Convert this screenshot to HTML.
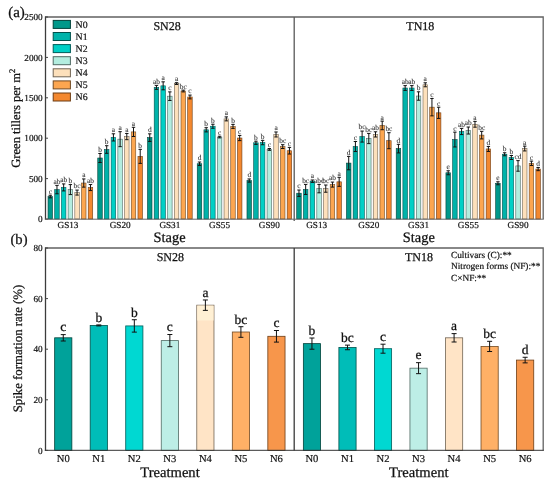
<!DOCTYPE html>
<html><head><meta charset="utf-8"><style>
html,body{margin:0;padding:0;background:#fff;width:550px;height:483px;overflow:hidden}
svg{display:block;will-change:transform}
text{font-family:"Liberation Serif", serif;text-rendering:geometricPrecision}
</style></head><body>
<svg width="550" height="483" viewBox="0 0 550 483">
<rect width="550" height="483" fill="#fff"/>
<rect x="48.02" y="196.54" width="4.50" height="22.46" fill="#00988a" stroke="#00423a" stroke-width="0.6"/>
<rect x="54.72" y="189.59" width="4.50" height="29.41" fill="#00b3aa" stroke="#00504b" stroke-width="0.6"/>
<rect x="61.42" y="187.41" width="4.50" height="31.59" fill="#00d0c6" stroke="#005d59" stroke-width="0.6"/>
<rect x="68.12" y="189.59" width="4.50" height="29.41" fill="#b3eddf" stroke="#506a64" stroke-width="0.6"/>
<rect x="74.82" y="192.58" width="4.50" height="26.42" fill="#fde0bb" stroke="#716454" stroke-width="0.6"/>
<rect x="81.52" y="183.04" width="4.50" height="35.96" fill="#fca650" stroke="#714a24" stroke-width="0.6"/>
<rect x="88.22" y="187.57" width="4.50" height="31.43" fill="#f3882f" stroke="#6d3d15" stroke-width="0.6"/>
<path d="M50.27 195.24V197.84M48.57 195.24H51.97M48.57 197.84H51.97" stroke="#111" stroke-width="1.0" fill="none"/>
<text x="50.27" y="193.64" font-size="7.4" text-anchor="middle" fill="#3a3a3a" stroke="#3a3a3a" stroke-width="0.12" >c</text>
<path d="M56.97 185.39V193.79M55.27 185.39H58.67M55.27 193.79H58.67" stroke="#111" stroke-width="1.0" fill="none"/>
<text x="56.97" y="183.79" font-size="7.4" text-anchor="middle" fill="#3a3a3a" stroke="#3a3a3a" stroke-width="0.12" >ab</text>
<path d="M63.67 183.91V190.91M61.97 183.91H65.37M61.97 190.91H65.37" stroke="#111" stroke-width="1.0" fill="none"/>
<text x="63.67" y="182.31" font-size="7.4" text-anchor="middle" fill="#3a3a3a" stroke="#3a3a3a" stroke-width="0.12" >ab</text>
<path d="M70.37 184.59V194.59M68.67 184.59H72.07M68.67 194.59H72.07" stroke="#111" stroke-width="1.0" fill="none"/>
<text x="70.37" y="182.99" font-size="7.4" text-anchor="middle" fill="#3a3a3a" stroke="#3a3a3a" stroke-width="0.12" >b</text>
<path d="M77.07 190.08V195.08M75.37 190.08H78.77M75.37 195.08H78.77" stroke="#111" stroke-width="1.0" fill="none"/>
<text x="77.07" y="188.48" font-size="7.4" text-anchor="middle" fill="#3a3a3a" stroke="#3a3a3a" stroke-width="0.12" >bc</text>
<path d="M83.77 178.94V187.14M82.07 178.94H85.47M82.07 187.14H85.47" stroke="#111" stroke-width="1.0" fill="none"/>
<text x="83.77" y="177.34" font-size="7.4" text-anchor="middle" fill="#3a3a3a" stroke="#3a3a3a" stroke-width="0.12" >a</text>
<path d="M90.47 184.57V190.57M88.77 184.57H92.17M88.77 190.57H92.17" stroke="#111" stroke-width="1.0" fill="none"/>
<text x="90.47" y="182.97" font-size="7.4" text-anchor="middle" fill="#3a3a3a" stroke="#3a3a3a" stroke-width="0.12" >ab</text>
<text x="67.97" y="228.30" font-size="9.2" text-anchor="middle" fill="#111" stroke="#111" stroke-width="0.2" >GS13</text>
<rect x="97.76" y="158.00" width="4.50" height="61.00" fill="#00988a" stroke="#00423a" stroke-width="0.6"/>
<rect x="104.46" y="149.51" width="4.50" height="69.49" fill="#00b3aa" stroke="#00504b" stroke-width="0.6"/>
<rect x="111.16" y="137.39" width="4.50" height="81.61" fill="#00d0c6" stroke="#005d59" stroke-width="0.6"/>
<rect x="117.86" y="139.17" width="4.50" height="79.83" fill="#b3eddf" stroke="#506a64" stroke-width="0.6"/>
<rect x="124.56" y="136.58" width="4.50" height="82.42" fill="#fde0bb" stroke="#716454" stroke-width="0.6"/>
<rect x="131.26" y="131.90" width="4.50" height="87.10" fill="#fca650" stroke="#714a24" stroke-width="0.6"/>
<rect x="137.96" y="156.38" width="4.50" height="62.62" fill="#f3882f" stroke="#6d3d15" stroke-width="0.6"/>
<path d="M100.01 153.50V162.50M98.31 153.50H101.71M98.31 162.50H101.71" stroke="#111" stroke-width="1.0" fill="none"/>
<text x="100.01" y="151.90" font-size="7.4" text-anchor="middle" fill="#3a3a3a" stroke="#3a3a3a" stroke-width="0.12" >b</text>
<path d="M106.71 145.71V153.31M105.01 145.71H108.41M105.01 153.31H108.41" stroke="#111" stroke-width="1.0" fill="none"/>
<text x="106.71" y="144.11" font-size="7.4" text-anchor="middle" fill="#3a3a3a" stroke="#3a3a3a" stroke-width="0.12" >b</text>
<path d="M113.41 133.79V140.99M111.71 133.79H115.11M111.71 140.99H115.11" stroke="#111" stroke-width="1.0" fill="none"/>
<text x="113.41" y="132.19" font-size="7.4" text-anchor="middle" fill="#3a3a3a" stroke="#3a3a3a" stroke-width="0.12" >a</text>
<path d="M120.11 131.67V146.67M118.41 131.67H121.81M118.41 146.67H121.81" stroke="#111" stroke-width="1.0" fill="none"/>
<text x="120.11" y="130.07" font-size="7.4" text-anchor="middle" fill="#3a3a3a" stroke="#3a3a3a" stroke-width="0.12" >a</text>
<path d="M126.81 133.48V139.68M125.11 133.48H128.51M125.11 139.68H128.51" stroke="#111" stroke-width="1.0" fill="none"/>
<text x="126.81" y="131.88" font-size="7.4" text-anchor="middle" fill="#3a3a3a" stroke="#3a3a3a" stroke-width="0.12" >a</text>
<path d="M133.51 127.30V136.50M131.81 127.30H135.21M131.81 136.50H135.21" stroke="#111" stroke-width="1.0" fill="none"/>
<text x="133.51" y="125.70" font-size="7.4" text-anchor="middle" fill="#3a3a3a" stroke="#3a3a3a" stroke-width="0.12" >a</text>
<path d="M140.21 149.38V163.38M138.51 149.38H141.91M138.51 163.38H141.91" stroke="#111" stroke-width="1.0" fill="none"/>
<text x="140.21" y="147.78" font-size="7.4" text-anchor="middle" fill="#3a3a3a" stroke="#3a3a3a" stroke-width="0.12" >b</text>
<text x="120.11" y="228.30" font-size="9.2" text-anchor="middle" fill="#111" stroke="#111" stroke-width="0.2" >GS20</text>
<rect x="147.50" y="137.63" width="4.50" height="81.37" fill="#00988a" stroke="#00423a" stroke-width="0.6"/>
<rect x="154.20" y="87.38" width="4.50" height="131.62" fill="#00b3aa" stroke="#00504b" stroke-width="0.6"/>
<rect x="160.90" y="85.84" width="4.50" height="133.16" fill="#00d0c6" stroke="#005d59" stroke-width="0.6"/>
<rect x="167.60" y="96.18" width="4.50" height="122.82" fill="#b3eddf" stroke="#506a64" stroke-width="0.6"/>
<rect x="174.30" y="83.58" width="4.50" height="135.42" fill="#fde0bb" stroke="#716454" stroke-width="0.6"/>
<rect x="181.00" y="91.01" width="4.50" height="127.99" fill="#fca650" stroke="#714a24" stroke-width="0.6"/>
<rect x="187.70" y="96.99" width="4.50" height="122.01" fill="#f3882f" stroke="#6d3d15" stroke-width="0.6"/>
<path d="M149.75 133.83V141.43M148.05 133.83H151.45M148.05 141.43H151.45" stroke="#111" stroke-width="1.0" fill="none"/>
<text x="149.75" y="132.23" font-size="7.4" text-anchor="middle" fill="#3a3a3a" stroke="#3a3a3a" stroke-width="0.12" >d</text>
<path d="M156.45 85.38V89.38M154.75 85.38H158.15M154.75 89.38H158.15" stroke="#111" stroke-width="1.0" fill="none"/>
<text x="156.45" y="83.78" font-size="7.4" text-anchor="middle" fill="#3a3a3a" stroke="#3a3a3a" stroke-width="0.12" >ab</text>
<path d="M163.15 81.84V89.84M161.45 81.84H164.85M161.45 89.84H164.85" stroke="#111" stroke-width="1.0" fill="none"/>
<text x="163.15" y="80.24" font-size="7.4" text-anchor="middle" fill="#3a3a3a" stroke="#3a3a3a" stroke-width="0.12" >a</text>
<path d="M169.85 91.88V100.48M168.15 91.88H171.55M168.15 100.48H171.55" stroke="#111" stroke-width="1.0" fill="none"/>
<text x="169.85" y="90.28" font-size="7.4" text-anchor="middle" fill="#3a3a3a" stroke="#3a3a3a" stroke-width="0.12" >c</text>
<path d="M176.55 82.68V84.48M174.85 82.68H178.25M174.85 84.48H178.25" stroke="#111" stroke-width="1.0" fill="none"/>
<text x="176.55" y="81.08" font-size="7.4" text-anchor="middle" fill="#3a3a3a" stroke="#3a3a3a" stroke-width="0.12" >a</text>
<path d="M183.25 90.11V91.91M181.55 90.11H184.95M181.55 91.91H184.95" stroke="#111" stroke-width="1.0" fill="none"/>
<text x="183.25" y="88.51" font-size="7.4" text-anchor="middle" fill="#3a3a3a" stroke="#3a3a3a" stroke-width="0.12" >bc</text>
<path d="M189.95 95.09V98.89M188.25 95.09H191.65M188.25 98.89H191.65" stroke="#111" stroke-width="1.0" fill="none"/>
<text x="189.95" y="93.49" font-size="7.4" text-anchor="middle" fill="#3a3a3a" stroke="#3a3a3a" stroke-width="0.12" >c</text>
<text x="169.85" y="228.30" font-size="9.2" text-anchor="middle" fill="#111" stroke="#111" stroke-width="0.2" >GS31</text>
<rect x="197.24" y="163.73" width="4.50" height="55.27" fill="#00988a" stroke="#00423a" stroke-width="0.6"/>
<rect x="203.94" y="129.80" width="4.50" height="89.20" fill="#00b3aa" stroke="#00504b" stroke-width="0.6"/>
<rect x="210.64" y="126.24" width="4.50" height="92.76" fill="#00d0c6" stroke="#005d59" stroke-width="0.6"/>
<rect x="217.34" y="137.07" width="4.50" height="81.93" fill="#b3eddf" stroke="#506a64" stroke-width="0.6"/>
<rect x="224.04" y="118.89" width="4.50" height="100.11" fill="#fde0bb" stroke="#716454" stroke-width="0.6"/>
<rect x="230.74" y="126.40" width="4.50" height="92.60" fill="#fca650" stroke="#714a24" stroke-width="0.6"/>
<rect x="237.44" y="138.04" width="4.50" height="80.96" fill="#f3882f" stroke="#6d3d15" stroke-width="0.6"/>
<path d="M199.49 162.03V165.43M197.79 162.03H201.19M197.79 165.43H201.19" stroke="#111" stroke-width="1.0" fill="none"/>
<text x="199.49" y="160.43" font-size="7.4" text-anchor="middle" fill="#3a3a3a" stroke="#3a3a3a" stroke-width="0.12" >d</text>
<path d="M206.19 127.70V131.90M204.49 127.70H207.89M204.49 131.90H207.89" stroke="#111" stroke-width="1.0" fill="none"/>
<text x="206.19" y="126.10" font-size="7.4" text-anchor="middle" fill="#3a3a3a" stroke="#3a3a3a" stroke-width="0.12" >b</text>
<path d="M212.89 124.24V128.24M211.19 124.24H214.59M211.19 128.24H214.59" stroke="#111" stroke-width="1.0" fill="none"/>
<text x="212.89" y="122.64" font-size="7.4" text-anchor="middle" fill="#3a3a3a" stroke="#3a3a3a" stroke-width="0.12" >b</text>
<path d="M219.59 136.27V137.87M217.89 136.27H221.29M217.89 137.87H221.29" stroke="#111" stroke-width="1.0" fill="none"/>
<text x="219.59" y="134.67" font-size="7.4" text-anchor="middle" fill="#3a3a3a" stroke="#3a3a3a" stroke-width="0.12" >c</text>
<path d="M226.29 116.89V120.89M224.59 116.89H227.99M224.59 120.89H227.99" stroke="#111" stroke-width="1.0" fill="none"/>
<text x="226.29" y="115.29" font-size="7.4" text-anchor="middle" fill="#3a3a3a" stroke="#3a3a3a" stroke-width="0.12" >a</text>
<path d="M232.99 124.40V128.40M231.29 124.40H234.69M231.29 128.40H234.69" stroke="#111" stroke-width="1.0" fill="none"/>
<text x="232.99" y="122.80" font-size="7.4" text-anchor="middle" fill="#3a3a3a" stroke="#3a3a3a" stroke-width="0.12" >b</text>
<path d="M239.69 135.44V140.64M237.99 135.44H241.39M237.99 140.64H241.39" stroke="#111" stroke-width="1.0" fill="none"/>
<text x="239.69" y="133.84" font-size="7.4" text-anchor="middle" fill="#3a3a3a" stroke="#3a3a3a" stroke-width="0.12" >c</text>
<text x="219.59" y="228.30" font-size="9.2" text-anchor="middle" fill="#111" stroke="#111" stroke-width="0.2" >GS55</text>
<rect x="246.98" y="180.54" width="4.50" height="38.46" fill="#00988a" stroke="#00423a" stroke-width="0.6"/>
<rect x="253.68" y="142.81" width="4.50" height="76.19" fill="#00b3aa" stroke="#00504b" stroke-width="0.6"/>
<rect x="260.38" y="142.56" width="4.50" height="76.44" fill="#00d0c6" stroke="#005d59" stroke-width="0.6"/>
<rect x="267.08" y="149.43" width="4.50" height="69.57" fill="#b3eddf" stroke="#506a64" stroke-width="0.6"/>
<rect x="273.78" y="134.48" width="4.50" height="84.52" fill="#fde0bb" stroke="#716454" stroke-width="0.6"/>
<rect x="280.48" y="146.60" width="4.50" height="72.40" fill="#fca650" stroke="#714a24" stroke-width="0.6"/>
<rect x="287.18" y="150.72" width="4.50" height="68.28" fill="#f3882f" stroke="#6d3d15" stroke-width="0.6"/>
<path d="M249.23 178.94V182.14M247.53 178.94H250.93M247.53 182.14H250.93" stroke="#111" stroke-width="1.0" fill="none"/>
<text x="249.23" y="177.34" font-size="7.4" text-anchor="middle" fill="#3a3a3a" stroke="#3a3a3a" stroke-width="0.12" >d</text>
<path d="M255.93 141.21V144.41M254.23 141.21H257.63M254.23 144.41H257.63" stroke="#111" stroke-width="1.0" fill="none"/>
<text x="255.93" y="139.61" font-size="7.4" text-anchor="middle" fill="#3a3a3a" stroke="#3a3a3a" stroke-width="0.12" >b</text>
<path d="M262.63 140.36V144.76M260.93 140.36H264.33M260.93 144.76H264.33" stroke="#111" stroke-width="1.0" fill="none"/>
<text x="262.63" y="138.76" font-size="7.4" text-anchor="middle" fill="#3a3a3a" stroke="#3a3a3a" stroke-width="0.12" >b</text>
<path d="M269.33 148.53V150.33M267.63 148.53H271.03M267.63 150.33H271.03" stroke="#111" stroke-width="1.0" fill="none"/>
<text x="269.33" y="146.93" font-size="7.4" text-anchor="middle" fill="#3a3a3a" stroke="#3a3a3a" stroke-width="0.12" >c</text>
<path d="M276.03 131.98V136.98M274.33 131.98H277.73M274.33 136.98H277.73" stroke="#111" stroke-width="1.0" fill="none"/>
<text x="276.03" y="130.38" font-size="7.4" text-anchor="middle" fill="#3a3a3a" stroke="#3a3a3a" stroke-width="0.12" >a</text>
<path d="M282.73 144.70V148.50M281.03 144.70H284.43M281.03 148.50H284.43" stroke="#111" stroke-width="1.0" fill="none"/>
<text x="282.73" y="143.10" font-size="7.4" text-anchor="middle" fill="#3a3a3a" stroke="#3a3a3a" stroke-width="0.12" >bc</text>
<path d="M289.43 147.42V154.02M287.73 147.42H291.13M287.73 154.02H291.13" stroke="#111" stroke-width="1.0" fill="none"/>
<text x="289.43" y="145.82" font-size="7.4" text-anchor="middle" fill="#3a3a3a" stroke="#3a3a3a" stroke-width="0.12" >c</text>
<text x="269.33" y="228.30" font-size="9.2" text-anchor="middle" fill="#111" stroke="#111" stroke-width="0.2" >GS90</text>
<rect x="296.72" y="193.22" width="4.50" height="25.78" fill="#00988a" stroke="#00423a" stroke-width="0.6"/>
<rect x="303.42" y="189.43" width="4.50" height="29.57" fill="#00b3aa" stroke="#00504b" stroke-width="0.6"/>
<rect x="310.12" y="181.19" width="4.50" height="37.81" fill="#00d0c6" stroke="#005d59" stroke-width="0.6"/>
<rect x="316.82" y="188.62" width="4.50" height="30.38" fill="#b3eddf" stroke="#506a64" stroke-width="0.6"/>
<rect x="323.52" y="188.62" width="4.50" height="30.38" fill="#fde0bb" stroke="#716454" stroke-width="0.6"/>
<rect x="330.22" y="184.58" width="4.50" height="34.42" fill="#fca650" stroke="#714a24" stroke-width="0.6"/>
<rect x="336.92" y="181.83" width="4.50" height="37.17" fill="#f3882f" stroke="#6d3d15" stroke-width="0.6"/>
<path d="M298.97 190.02V196.42M297.27 190.02H300.67M297.27 196.42H300.67" stroke="#111" stroke-width="1.0" fill="none"/>
<text x="298.97" y="188.42" font-size="7.4" text-anchor="middle" fill="#3a3a3a" stroke="#3a3a3a" stroke-width="0.12" >c</text>
<path d="M305.67 184.43V194.43M303.97 184.43H307.37M303.97 194.43H307.37" stroke="#111" stroke-width="1.0" fill="none"/>
<text x="305.67" y="182.83" font-size="7.4" text-anchor="middle" fill="#3a3a3a" stroke="#3a3a3a" stroke-width="0.12" >bc</text>
<path d="M312.37 179.99V182.39M310.67 179.99H314.07M310.67 182.39H314.07" stroke="#111" stroke-width="1.0" fill="none"/>
<text x="312.37" y="178.39" font-size="7.4" text-anchor="middle" fill="#3a3a3a" stroke="#3a3a3a" stroke-width="0.12" >a</text>
<path d="M319.07 184.42V192.82M317.37 184.42H320.77M317.37 192.82H320.77" stroke="#111" stroke-width="1.0" fill="none"/>
<text x="319.07" y="182.82" font-size="7.4" text-anchor="middle" fill="#3a3a3a" stroke="#3a3a3a" stroke-width="0.12" >abc</text>
<path d="M325.77 185.02V192.22M324.07 185.02H327.47M324.07 192.22H327.47" stroke="#111" stroke-width="1.0" fill="none"/>
<text x="325.77" y="183.42" font-size="7.4" text-anchor="middle" fill="#3a3a3a" stroke="#3a3a3a" stroke-width="0.12" >bc</text>
<path d="M332.47 182.08V187.08M330.77 182.08H334.17M330.77 187.08H334.17" stroke="#111" stroke-width="1.0" fill="none"/>
<text x="332.47" y="180.48" font-size="7.4" text-anchor="middle" fill="#3a3a3a" stroke="#3a3a3a" stroke-width="0.12" >ab</text>
<path d="M339.17 177.33V186.33M337.47 177.33H340.87M337.47 186.33H340.87" stroke="#111" stroke-width="1.0" fill="none"/>
<text x="339.17" y="175.73" font-size="7.4" text-anchor="middle" fill="#3a3a3a" stroke="#3a3a3a" stroke-width="0.12" >a</text>
<text x="316.67" y="228.30" font-size="9.2" text-anchor="middle" fill="#111" stroke="#111" stroke-width="0.2" >GS13</text>
<rect x="346.46" y="163.09" width="4.50" height="55.91" fill="#00988a" stroke="#00423a" stroke-width="0.6"/>
<rect x="353.16" y="146.52" width="4.50" height="72.48" fill="#00b3aa" stroke="#00504b" stroke-width="0.6"/>
<rect x="359.86" y="136.58" width="4.50" height="82.42" fill="#00d0c6" stroke="#005d59" stroke-width="0.6"/>
<rect x="366.56" y="138.52" width="4.50" height="80.48" fill="#b3eddf" stroke="#506a64" stroke-width="0.6"/>
<rect x="373.26" y="134.40" width="4.50" height="84.60" fill="#fde0bb" stroke="#716454" stroke-width="0.6"/>
<rect x="379.96" y="125.43" width="4.50" height="93.57" fill="#fca650" stroke="#714a24" stroke-width="0.6"/>
<rect x="386.66" y="140.70" width="4.50" height="78.30" fill="#f3882f" stroke="#6d3d15" stroke-width="0.6"/>
<path d="M348.71 156.39V169.79M347.01 156.39H350.41M347.01 169.79H350.41" stroke="#111" stroke-width="1.0" fill="none"/>
<text x="348.71" y="154.79" font-size="7.4" text-anchor="middle" fill="#3a3a3a" stroke="#3a3a3a" stroke-width="0.12" >d</text>
<path d="M355.41 141.52V151.52M353.71 141.52H357.11M353.71 151.52H357.11" stroke="#111" stroke-width="1.0" fill="none"/>
<text x="355.41" y="139.92" font-size="7.4" text-anchor="middle" fill="#3a3a3a" stroke="#3a3a3a" stroke-width="0.12" >c</text>
<path d="M362.11 131.08V142.08M360.41 131.08H363.81M360.41 142.08H363.81" stroke="#111" stroke-width="1.0" fill="none"/>
<text x="362.11" y="129.48" font-size="7.4" text-anchor="middle" fill="#3a3a3a" stroke="#3a3a3a" stroke-width="0.12" >bc</text>
<path d="M368.81 133.42V143.62M367.11 133.42H370.51M367.11 143.62H370.51" stroke="#111" stroke-width="1.0" fill="none"/>
<text x="368.81" y="131.82" font-size="7.4" text-anchor="middle" fill="#3a3a3a" stroke="#3a3a3a" stroke-width="0.12" >bc</text>
<path d="M375.51 131.80V137.00M373.81 131.80H377.21M373.81 137.00H377.21" stroke="#111" stroke-width="1.0" fill="none"/>
<text x="375.51" y="130.20" font-size="7.4" text-anchor="middle" fill="#3a3a3a" stroke="#3a3a3a" stroke-width="0.12" >ab</text>
<path d="M382.21 121.13V129.73M380.51 121.13H383.91M380.51 129.73H383.91" stroke="#111" stroke-width="1.0" fill="none"/>
<text x="382.21" y="119.53" font-size="7.4" text-anchor="middle" fill="#3a3a3a" stroke="#3a3a3a" stroke-width="0.12" >a</text>
<path d="M388.91 132.70V148.70M387.21 132.70H390.61M387.21 148.70H390.61" stroke="#111" stroke-width="1.0" fill="none"/>
<text x="388.91" y="131.10" font-size="7.4" text-anchor="middle" fill="#3a3a3a" stroke="#3a3a3a" stroke-width="0.12" >bc</text>
<text x="368.81" y="228.30" font-size="9.2" text-anchor="middle" fill="#111" stroke="#111" stroke-width="0.2" >GS20</text>
<rect x="396.20" y="148.62" width="4.50" height="70.38" fill="#00988a" stroke="#00423a" stroke-width="0.6"/>
<rect x="402.90" y="88.02" width="4.50" height="130.98" fill="#00b3aa" stroke="#00504b" stroke-width="0.6"/>
<rect x="409.60" y="88.02" width="4.50" height="130.98" fill="#00d0c6" stroke="#005d59" stroke-width="0.6"/>
<rect x="416.30" y="96.02" width="4.50" height="122.98" fill="#b3eddf" stroke="#506a64" stroke-width="0.6"/>
<rect x="423.00" y="84.79" width="4.50" height="134.21" fill="#fde0bb" stroke="#716454" stroke-width="0.6"/>
<rect x="429.70" y="107.17" width="4.50" height="111.83" fill="#fca650" stroke="#714a24" stroke-width="0.6"/>
<rect x="436.40" y="112.83" width="4.50" height="106.17" fill="#f3882f" stroke="#6d3d15" stroke-width="0.6"/>
<path d="M398.45 144.32V152.92M396.75 144.32H400.15M396.75 152.92H400.15" stroke="#111" stroke-width="1.0" fill="none"/>
<text x="398.45" y="142.72" font-size="7.4" text-anchor="middle" fill="#3a3a3a" stroke="#3a3a3a" stroke-width="0.12" >d</text>
<path d="M405.15 85.62V90.42M403.45 85.62H406.85M403.45 90.42H406.85" stroke="#111" stroke-width="1.0" fill="none"/>
<text x="405.15" y="84.02" font-size="7.4" text-anchor="middle" fill="#3a3a3a" stroke="#3a3a3a" stroke-width="0.12" >ab</text>
<path d="M411.85 85.62V90.42M410.15 85.62H413.55M410.15 90.42H413.55" stroke="#111" stroke-width="1.0" fill="none"/>
<text x="411.85" y="84.02" font-size="7.4" text-anchor="middle" fill="#3a3a3a" stroke="#3a3a3a" stroke-width="0.12" >ab</text>
<path d="M418.55 91.82V100.22M416.85 91.82H420.25M416.85 100.22H420.25" stroke="#111" stroke-width="1.0" fill="none"/>
<text x="418.55" y="90.22" font-size="7.4" text-anchor="middle" fill="#3a3a3a" stroke="#3a3a3a" stroke-width="0.12" >b</text>
<path d="M425.25 82.79V86.79M423.55 82.79H426.95M423.55 86.79H426.95" stroke="#111" stroke-width="1.0" fill="none"/>
<text x="425.25" y="81.19" font-size="7.4" text-anchor="middle" fill="#3a3a3a" stroke="#3a3a3a" stroke-width="0.12" >a</text>
<path d="M431.95 98.47V115.87M430.25 98.47H433.65M430.25 115.87H433.65" stroke="#111" stroke-width="1.0" fill="none"/>
<text x="431.95" y="96.87" font-size="7.4" text-anchor="middle" fill="#3a3a3a" stroke="#3a3a3a" stroke-width="0.12" >c</text>
<path d="M438.65 107.23V118.43M436.95 107.23H440.35M436.95 118.43H440.35" stroke="#111" stroke-width="1.0" fill="none"/>
<text x="438.65" y="105.63" font-size="7.4" text-anchor="middle" fill="#3a3a3a" stroke="#3a3a3a" stroke-width="0.12" >c</text>
<text x="418.55" y="228.30" font-size="9.2" text-anchor="middle" fill="#111" stroke="#111" stroke-width="0.2" >GS31</text>
<rect x="445.94" y="172.78" width="4.50" height="46.22" fill="#00988a" stroke="#00423a" stroke-width="0.6"/>
<rect x="452.64" y="139.57" width="4.50" height="79.43" fill="#00b3aa" stroke="#00504b" stroke-width="0.6"/>
<rect x="459.34" y="131.49" width="4.50" height="87.51" fill="#00d0c6" stroke="#005d59" stroke-width="0.6"/>
<rect x="466.04" y="130.52" width="4.50" height="88.48" fill="#b3eddf" stroke="#506a64" stroke-width="0.6"/>
<rect x="472.74" y="124.30" width="4.50" height="94.70" fill="#fde0bb" stroke="#716454" stroke-width="0.6"/>
<rect x="479.44" y="135.13" width="4.50" height="83.87" fill="#fca650" stroke="#714a24" stroke-width="0.6"/>
<rect x="486.14" y="148.95" width="4.50" height="70.05" fill="#f3882f" stroke="#6d3d15" stroke-width="0.6"/>
<path d="M448.19 170.78V174.78M446.49 170.78H449.89M446.49 174.78H449.89" stroke="#111" stroke-width="1.0" fill="none"/>
<text x="448.19" y="169.18" font-size="7.4" text-anchor="middle" fill="#3a3a3a" stroke="#3a3a3a" stroke-width="0.12" >e</text>
<path d="M454.89 132.17V146.97M453.19 132.17H456.59M453.19 146.97H456.59" stroke="#111" stroke-width="1.0" fill="none"/>
<text x="454.89" y="130.57" font-size="7.4" text-anchor="middle" fill="#3a3a3a" stroke="#3a3a3a" stroke-width="0.12" >c</text>
<path d="M461.59 128.39V134.59M459.89 128.39H463.29M459.89 134.59H463.29" stroke="#111" stroke-width="1.0" fill="none"/>
<text x="461.59" y="126.79" font-size="7.4" text-anchor="middle" fill="#3a3a3a" stroke="#3a3a3a" stroke-width="0.12" >ab</text>
<path d="M468.29 127.02V134.02M466.59 127.02H469.99M466.59 134.02H469.99" stroke="#111" stroke-width="1.0" fill="none"/>
<text x="468.29" y="125.42" font-size="7.4" text-anchor="middle" fill="#3a3a3a" stroke="#3a3a3a" stroke-width="0.12" >ab</text>
<path d="M474.99 121.40V127.20M473.29 121.40H476.69M473.29 127.20H476.69" stroke="#111" stroke-width="1.0" fill="none"/>
<text x="474.99" y="119.80" font-size="7.4" text-anchor="middle" fill="#3a3a3a" stroke="#3a3a3a" stroke-width="0.12" >a</text>
<path d="M481.69 131.33V138.93M479.99 131.33H483.39M479.99 138.93H483.39" stroke="#111" stroke-width="1.0" fill="none"/>
<text x="481.69" y="129.73" font-size="7.4" text-anchor="middle" fill="#3a3a3a" stroke="#3a3a3a" stroke-width="0.12" >bc</text>
<path d="M488.39 146.45V151.45M486.69 146.45H490.09M486.69 151.45H490.09" stroke="#111" stroke-width="1.0" fill="none"/>
<text x="488.39" y="144.85" font-size="7.4" text-anchor="middle" fill="#3a3a3a" stroke="#3a3a3a" stroke-width="0.12" >d</text>
<text x="468.29" y="228.30" font-size="9.2" text-anchor="middle" fill="#111" stroke="#111" stroke-width="0.2" >GS55</text>
<rect x="495.68" y="183.29" width="4.50" height="35.71" fill="#00988a" stroke="#00423a" stroke-width="0.6"/>
<rect x="502.38" y="154.28" width="4.50" height="64.72" fill="#00b3aa" stroke="#00504b" stroke-width="0.6"/>
<rect x="509.08" y="157.51" width="4.50" height="61.49" fill="#00d0c6" stroke="#005d59" stroke-width="0.6"/>
<rect x="515.78" y="165.91" width="4.50" height="53.09" fill="#b3eddf" stroke="#506a64" stroke-width="0.6"/>
<rect x="522.48" y="148.54" width="4.50" height="70.46" fill="#fde0bb" stroke="#716454" stroke-width="0.6"/>
<rect x="529.18" y="163.33" width="4.50" height="55.67" fill="#fca650" stroke="#714a24" stroke-width="0.6"/>
<rect x="535.88" y="169.07" width="4.50" height="49.93" fill="#f3882f" stroke="#6d3d15" stroke-width="0.6"/>
<path d="M497.93 181.79V184.79M496.23 181.79H499.63M496.23 184.79H499.63" stroke="#111" stroke-width="1.0" fill="none"/>
<text x="497.93" y="180.19" font-size="7.4" text-anchor="middle" fill="#3a3a3a" stroke="#3a3a3a" stroke-width="0.12" >e</text>
<path d="M504.63 152.78V155.78M502.93 152.78H506.33M502.93 155.78H506.33" stroke="#111" stroke-width="1.0" fill="none"/>
<text x="504.63" y="151.18" font-size="7.4" text-anchor="middle" fill="#3a3a3a" stroke="#3a3a3a" stroke-width="0.12" >b</text>
<path d="M511.33 155.51V159.51M509.63 155.51H513.03M509.63 159.51H513.03" stroke="#111" stroke-width="1.0" fill="none"/>
<text x="511.33" y="153.91" font-size="7.4" text-anchor="middle" fill="#3a3a3a" stroke="#3a3a3a" stroke-width="0.12" >b</text>
<path d="M518.03 160.61V171.21M516.33 160.61H519.73M516.33 171.21H519.73" stroke="#111" stroke-width="1.0" fill="none"/>
<text x="518.03" y="159.01" font-size="7.4" text-anchor="middle" fill="#3a3a3a" stroke="#3a3a3a" stroke-width="0.12" >cd</text>
<path d="M524.73 146.14V150.94M523.03 146.14H526.43M523.03 150.94H526.43" stroke="#111" stroke-width="1.0" fill="none"/>
<text x="524.73" y="144.54" font-size="7.4" text-anchor="middle" fill="#3a3a3a" stroke="#3a3a3a" stroke-width="0.12" >a</text>
<path d="M531.43 161.13V165.53M529.73 161.13H533.13M529.73 165.53H533.13" stroke="#111" stroke-width="1.0" fill="none"/>
<text x="531.43" y="159.53" font-size="7.4" text-anchor="middle" fill="#3a3a3a" stroke="#3a3a3a" stroke-width="0.12" >c</text>
<path d="M538.13 167.47V170.67M536.43 167.47H539.83M536.43 170.67H539.83" stroke="#111" stroke-width="1.0" fill="none"/>
<text x="538.13" y="165.87" font-size="7.4" text-anchor="middle" fill="#3a3a3a" stroke="#3a3a3a" stroke-width="0.12" >d</text>
<text x="518.03" y="228.30" font-size="9.2" text-anchor="middle" fill="#111" stroke="#111" stroke-width="0.2" >GS90</text>
<rect x="54.66" y="337.81" width="17.20" height="112.58" fill="#00a29a" stroke="#00423a" stroke-width="0.8"/>
<path d="M63.26 334.62V341.01M60.76 334.62H65.76M60.76 341.01H65.76" stroke="#111" stroke-width="1.0" fill="none"/>
<text x="63.26" y="331.42" font-size="13.5" text-anchor="middle" fill="#111" stroke="#111" stroke-width="0.25" >c</text>
<text x="63.26" y="462.40" font-size="10.6" text-anchor="middle" fill="#111" stroke="#111" stroke-width="0.2" >N0</text>
<rect x="90.19" y="325.42" width="17.20" height="124.98" fill="#00bdb8" stroke="#00504b" stroke-width="0.8"/>
<path d="M98.79 324.92V325.92M96.29 324.92H101.29M96.29 325.92H101.29" stroke="#111" stroke-width="1.0" fill="none"/>
<text x="98.79" y="321.72" font-size="13.5" text-anchor="middle" fill="#111" stroke="#111" stroke-width="0.25" >b</text>
<text x="98.79" y="462.40" font-size="10.6" text-anchor="middle" fill="#111" stroke="#111" stroke-width="0.2" >N1</text>
<rect x="125.72" y="325.92" width="17.20" height="124.48" fill="#00d8d2" stroke="#005d59" stroke-width="0.8"/>
<path d="M134.32 319.72V332.12M131.82 319.72H136.82M131.82 332.12H136.82" stroke="#111" stroke-width="1.0" fill="none"/>
<text x="134.32" y="316.52" font-size="13.5" text-anchor="middle" fill="#111" stroke="#111" stroke-width="0.25" >b</text>
<text x="134.32" y="462.40" font-size="10.6" text-anchor="middle" fill="#111" stroke="#111" stroke-width="0.2" >N2</text>
<rect x="161.25" y="340.60" width="17.20" height="109.80" fill="#bdeee6" stroke="#506a64" stroke-width="0.8"/>
<path d="M169.85 334.50V346.70M167.35 334.50H172.35M167.35 346.70H172.35" stroke="#111" stroke-width="1.0" fill="none"/>
<text x="169.85" y="331.30" font-size="13.5" text-anchor="middle" fill="#111" stroke="#111" stroke-width="0.25" >c</text>
<text x="169.85" y="462.40" font-size="10.6" text-anchor="middle" fill="#111" stroke="#111" stroke-width="0.2" >N3</text>
<rect x="196.78" y="305.18" width="17.20" height="145.22" fill="#ffe4c6" stroke="#716454" stroke-width="0.8"/>
<rect x="197.18" y="305.58" width="16.40" height="14.92" fill="#fff0d4"/>
<path d="M205.38 299.98V310.38M202.88 299.98H207.88M202.88 310.38H207.88" stroke="#111" stroke-width="1.0" fill="none"/>
<text x="205.38" y="296.78" font-size="13.5" text-anchor="middle" fill="#111" stroke="#111" stroke-width="0.25" >a</text>
<text x="205.38" y="462.40" font-size="10.6" text-anchor="middle" fill="#111" stroke="#111" stroke-width="0.2" >N4</text>
<rect x="232.31" y="332.00" width="17.20" height="118.40" fill="#ffb066" stroke="#714a24" stroke-width="0.8"/>
<path d="M240.91 326.70V337.30M238.41 326.70H243.41M238.41 337.30H243.41" stroke="#111" stroke-width="1.0" fill="none"/>
<text x="240.91" y="323.50" font-size="13.5" text-anchor="middle" fill="#111" stroke="#111" stroke-width="0.25" >bc</text>
<text x="240.91" y="462.40" font-size="10.6" text-anchor="middle" fill="#111" stroke="#111" stroke-width="0.2" >N5</text>
<rect x="267.84" y="336.30" width="17.20" height="114.10" fill="#f7964b" stroke="#6d3d15" stroke-width="0.8"/>
<path d="M276.44 330.50V342.10M273.94 330.50H278.94M273.94 342.10H278.94" stroke="#111" stroke-width="1.0" fill="none"/>
<text x="276.44" y="327.30" font-size="13.5" text-anchor="middle" fill="#111" stroke="#111" stroke-width="0.25" >c</text>
<text x="276.44" y="462.40" font-size="10.6" text-anchor="middle" fill="#111" stroke="#111" stroke-width="0.2" >N6</text>
<rect x="303.36" y="343.63" width="17.20" height="106.77" fill="#00a29a" stroke="#00423a" stroke-width="0.8"/>
<path d="M311.96 338.03V349.23M309.46 338.03H314.46M309.46 349.23H314.46" stroke="#111" stroke-width="1.0" fill="none"/>
<text x="311.96" y="334.83" font-size="13.5" text-anchor="middle" fill="#111" stroke="#111" stroke-width="0.25" >b</text>
<text x="311.96" y="462.40" font-size="10.6" text-anchor="middle" fill="#111" stroke="#111" stroke-width="0.2" >N0</text>
<rect x="338.89" y="347.43" width="17.20" height="102.97" fill="#00bdb8" stroke="#00504b" stroke-width="0.8"/>
<path d="M347.49 345.13V349.73M344.99 345.13H349.99M344.99 349.73H349.99" stroke="#111" stroke-width="1.0" fill="none"/>
<text x="347.49" y="341.93" font-size="13.5" text-anchor="middle" fill="#111" stroke="#111" stroke-width="0.25" >bc</text>
<text x="347.49" y="462.40" font-size="10.6" text-anchor="middle" fill="#111" stroke="#111" stroke-width="0.2" >N1</text>
<rect x="374.42" y="348.69" width="17.20" height="101.71" fill="#00d8d2" stroke="#005d59" stroke-width="0.8"/>
<path d="M383.02 344.19V353.19M380.52 344.19H385.52M380.52 353.19H385.52" stroke="#111" stroke-width="1.0" fill="none"/>
<text x="383.02" y="340.99" font-size="13.5" text-anchor="middle" fill="#111" stroke="#111" stroke-width="0.25" >c</text>
<text x="383.02" y="462.40" font-size="10.6" text-anchor="middle" fill="#111" stroke="#111" stroke-width="0.2" >N2</text>
<rect x="409.95" y="368.17" width="17.20" height="82.23" fill="#bdeee6" stroke="#506a64" stroke-width="0.8"/>
<path d="M418.55 362.67V373.67M416.05 362.67H421.05M416.05 373.67H421.05" stroke="#111" stroke-width="1.0" fill="none"/>
<text x="418.55" y="359.47" font-size="13.5" text-anchor="middle" fill="#111" stroke="#111" stroke-width="0.25" >e</text>
<text x="418.55" y="462.40" font-size="10.6" text-anchor="middle" fill="#111" stroke="#111" stroke-width="0.2" >N3</text>
<rect x="445.48" y="337.81" width="17.20" height="112.58" fill="#ffe4c6" stroke="#716454" stroke-width="0.8"/>
<path d="M454.08 333.62V342.01M451.58 333.62H456.58M451.58 342.01H456.58" stroke="#111" stroke-width="1.0" fill="none"/>
<text x="454.08" y="330.42" font-size="13.5" text-anchor="middle" fill="#111" stroke="#111" stroke-width="0.25" >a</text>
<text x="454.08" y="462.40" font-size="10.6" text-anchor="middle" fill="#111" stroke="#111" stroke-width="0.2" >N4</text>
<rect x="481.01" y="346.42" width="17.20" height="103.98" fill="#ffb066" stroke="#714a24" stroke-width="0.8"/>
<path d="M489.61 341.32V351.52M487.11 341.32H492.11M487.11 351.52H492.11" stroke="#111" stroke-width="1.0" fill="none"/>
<text x="489.61" y="338.12" font-size="13.5" text-anchor="middle" fill="#111" stroke="#111" stroke-width="0.25" >bc</text>
<text x="489.61" y="462.40" font-size="10.6" text-anchor="middle" fill="#111" stroke="#111" stroke-width="0.2" >N5</text>
<rect x="516.54" y="360.08" width="17.20" height="90.32" fill="#f7964b" stroke="#6d3d15" stroke-width="0.8"/>
<path d="M525.14 357.28V362.88M522.64 357.28H527.64M522.64 362.88H527.64" stroke="#111" stroke-width="1.0" fill="none"/>
<text x="525.14" y="354.08" font-size="13.5" text-anchor="middle" fill="#111" stroke="#111" stroke-width="0.25" >d</text>
<text x="525.14" y="462.40" font-size="10.6" text-anchor="middle" fill="#111" stroke="#111" stroke-width="0.2" >N6</text>
<path d="M45.5 17.0H543.2V219.0" fill="none" stroke="#626262" stroke-width="1.3"/>
<line x1="294.2" y1="17.0" x2="294.2" y2="221.0" stroke="#585858" stroke-width="1.3"/>
<path d="M45.5 16.35V219.5" fill="none" stroke="#3c3c3c" stroke-width="1.3"/>
<path d="M44.85 219.2H543.85" fill="none" stroke="#666" stroke-width="1.0"/>
<path d="M45.5 248.0H543.2V450.4" fill="none" stroke="#626262" stroke-width="1.3"/>
<line x1="294.2" y1="248.0" x2="294.2" y2="450.4" stroke="#3a3a3a" stroke-width="1.3"/>
<path d="M45.5 247.35V450.9" fill="none" stroke="#3c3c3c" stroke-width="1.3"/>
<path d="M44.85 450.29999999999995H543.85" fill="none" stroke="#333" stroke-width="1.0"/>
<line x1="45.5" y1="219.00" x2="48.0" y2="219.00" stroke="#444" stroke-width="1"/>
<text x="42.70" y="222.10" font-size="9.2" text-anchor="end" fill="#111" stroke="#111" stroke-width="0.2" >0</text>
<line x1="45.5" y1="178.60" x2="48.0" y2="178.60" stroke="#444" stroke-width="1"/>
<text x="42.70" y="181.70" font-size="9.2" text-anchor="end" fill="#111" stroke="#111" stroke-width="0.2" >500</text>
<line x1="45.5" y1="138.20" x2="48.0" y2="138.20" stroke="#444" stroke-width="1"/>
<text x="42.70" y="141.30" font-size="9.2" text-anchor="end" fill="#111" stroke="#111" stroke-width="0.2" >1000</text>
<line x1="45.5" y1="97.80" x2="48.0" y2="97.80" stroke="#444" stroke-width="1"/>
<text x="42.70" y="100.90" font-size="9.2" text-anchor="end" fill="#111" stroke="#111" stroke-width="0.2" >1500</text>
<line x1="45.5" y1="57.40" x2="48.0" y2="57.40" stroke="#444" stroke-width="1"/>
<text x="42.70" y="60.50" font-size="9.2" text-anchor="end" fill="#111" stroke="#111" stroke-width="0.2" >2000</text>
<line x1="45.5" y1="17.00" x2="48.0" y2="17.00" stroke="#444" stroke-width="1"/>
<text x="42.70" y="20.10" font-size="9.2" text-anchor="end" fill="#111" stroke="#111" stroke-width="0.2" >2500</text>
<line x1="45.5" y1="450.40" x2="48.0" y2="450.40" stroke="#444" stroke-width="1"/>
<text x="42.70" y="453.50" font-size="9.2" text-anchor="end" fill="#111" stroke="#111" stroke-width="0.2" >0</text>
<line x1="45.5" y1="399.80" x2="48.0" y2="399.80" stroke="#444" stroke-width="1"/>
<text x="42.70" y="402.90" font-size="9.2" text-anchor="end" fill="#111" stroke="#111" stroke-width="0.2" >20</text>
<line x1="45.5" y1="349.20" x2="48.0" y2="349.20" stroke="#444" stroke-width="1"/>
<text x="42.70" y="352.30" font-size="9.2" text-anchor="end" fill="#111" stroke="#111" stroke-width="0.2" >40</text>
<line x1="45.5" y1="298.60" x2="48.0" y2="298.60" stroke="#444" stroke-width="1"/>
<text x="42.70" y="301.70" font-size="9.2" text-anchor="end" fill="#111" stroke="#111" stroke-width="0.2" >60</text>
<line x1="45.5" y1="248.00" x2="48.0" y2="248.00" stroke="#444" stroke-width="1"/>
<text x="42.70" y="251.10" font-size="9.2" text-anchor="end" fill="#111" stroke="#111" stroke-width="0.2" >80</text>
<text x="167.10" y="30.20" font-size="12" text-anchor="middle" fill="#111" stroke="#111" stroke-width="0.25" >SN28</text>
<text x="420.30" y="30.30" font-size="12" text-anchor="middle" fill="#111" stroke="#111" stroke-width="0.25" >TN18</text>
<text x="170.30" y="260.60" font-size="12" text-anchor="middle" fill="#111" stroke="#111" stroke-width="0.25" >SN28</text>
<text x="419.00" y="260.80" font-size="12" text-anchor="middle" fill="#111" stroke="#111" stroke-width="0.25" >TN18</text>
<text x="169.60" y="242.40" font-size="14.4" text-anchor="middle" fill="#111" stroke="#111" stroke-width="0.25" >Stage</text>
<text x="418.80" y="242.40" font-size="14.4" text-anchor="middle" fill="#111" stroke="#111" stroke-width="0.25" >Stage</text>
<text x="170.00" y="476.90" font-size="14.6" text-anchor="middle" fill="#111" stroke="#111" stroke-width="0.25" >Treatment</text>
<text x="418.80" y="476.90" font-size="14.6" text-anchor="middle" fill="#111" stroke="#111" stroke-width="0.25" >Treatment</text>
<text x="8.20" y="17.30" font-size="15" text-anchor="start" fill="#111" stroke="#111" stroke-width="0.25" >(a)</text>
<text x="10.50" y="244.20" font-size="14.6" text-anchor="start" fill="#111" stroke="#111" stroke-width="0.25" >(b)</text>
<text transform="translate(20.3 118.3) rotate(-90)" font-size="12.6" text-anchor="middle" fill="#111" stroke="#111" stroke-width="0.25">Green tillers per m<tspan dy="-5" font-size="8.5">2</tspan></text>
<text transform="translate(22.3 348.5) rotate(-90)" font-size="12.8" text-anchor="middle" fill="#111" stroke="#111" stroke-width="0.25">Spike formation rate (%)</text>
<rect x="53.2" y="20.40" width="17.2" height="8.0" fill="#00988a" stroke="#00423a" stroke-width="1.0"/>
<text x="75.60" y="27.70" font-size="9.8" text-anchor="start" fill="#111" stroke="#111" stroke-width="0.2" >N0</text>
<rect x="53.2" y="32.50" width="17.2" height="8.0" fill="#00b3aa" stroke="#00504b" stroke-width="1.0"/>
<text x="75.60" y="39.80" font-size="9.8" text-anchor="start" fill="#111" stroke="#111" stroke-width="0.2" >N1</text>
<rect x="53.2" y="44.60" width="17.2" height="8.0" fill="#00d0c6" stroke="#005d59" stroke-width="1.0"/>
<text x="75.60" y="51.90" font-size="9.8" text-anchor="start" fill="#111" stroke="#111" stroke-width="0.2" >N2</text>
<rect x="53.2" y="56.70" width="17.2" height="8.0" fill="#b3eddf" stroke="#506a64" stroke-width="1.0"/>
<text x="75.60" y="64.00" font-size="9.8" text-anchor="start" fill="#111" stroke="#111" stroke-width="0.2" >N3</text>
<rect x="53.2" y="68.80" width="17.2" height="8.0" fill="#fde0bb" stroke="#716454" stroke-width="1.0"/>
<text x="75.60" y="76.10" font-size="9.8" text-anchor="start" fill="#111" stroke="#111" stroke-width="0.2" >N4</text>
<rect x="53.2" y="80.90" width="17.2" height="8.0" fill="#fca650" stroke="#714a24" stroke-width="1.0"/>
<text x="75.60" y="88.20" font-size="9.8" text-anchor="start" fill="#111" stroke="#111" stroke-width="0.2" >N5</text>
<rect x="53.2" y="93.00" width="17.2" height="8.0" fill="#f3882f" stroke="#6d3d15" stroke-width="1.0"/>
<text x="75.60" y="100.30" font-size="9.8" text-anchor="start" fill="#111" stroke="#111" stroke-width="0.2" >N6</text>
<text x="451.00" y="258.00" font-size="9.3" text-anchor="start" fill="#111" stroke="#111" stroke-width="0.2" >Cultivars (C):**</text>
<text x="451.00" y="269.00" font-size="9.3" text-anchor="start" fill="#111" stroke="#111" stroke-width="0.2" >Nitrogen forms (NF):**</text>
<text x="451.00" y="280.60" font-size="9.3" text-anchor="start" fill="#111" stroke="#111" stroke-width="0.2" >C×NF:**</text>
</svg>
</body></html>
